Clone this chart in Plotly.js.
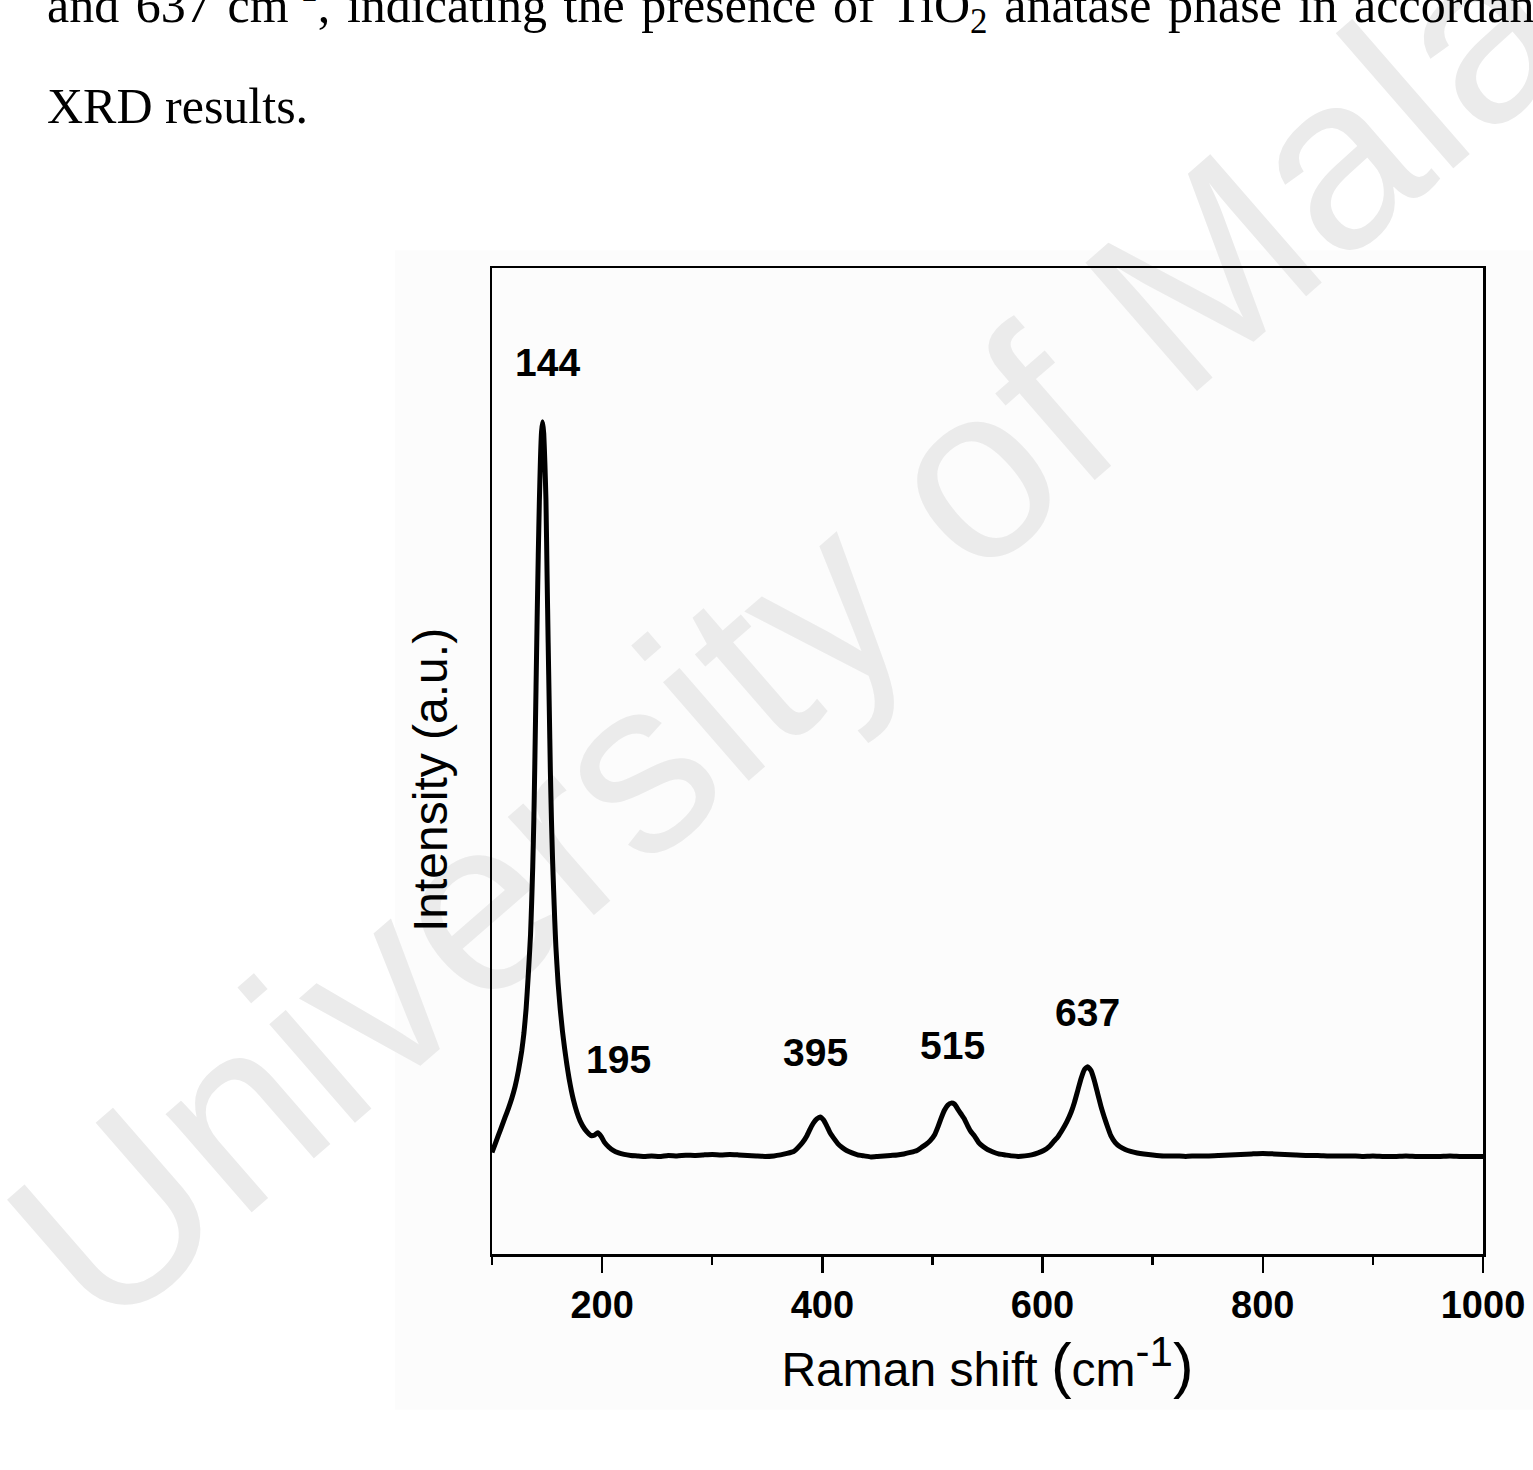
<!DOCTYPE html>
<html>
<head>
<meta charset="utf-8">
<script src="https://cdn.plot.ly/plotly-3.0.1.min.js"></script>
<style>
  html, body { margin: 0; padding: 0; background: #ffffff; }
  #chart { width: 1533px; height: 1470px; }
</style>
</head>
<body>
<div id="chart"></div>
<script>
// Raman shift (cm-1)
const ramanShift = [
  100,103,106,109,112,115,118,121,124,127,129,131,133,135,136,137,138,139,140,141,
  142,143,144,145,146,147,148,149,150,151,152,153,154,155,156,157,158,160,162,164,
  166,168,170,172,174,177,180,184,187,190,193,196,199,202,206,210,215,220,226,232,
  238,245,252,260,268,276,284,292,300,308,316,324,332,340,348,356,362,368,374,378,
  382,386,389,392,395,398,401,404,407,410,414,418,422,427,432,438,444,450,456,462,
  468,474,480,486,490,494,498,502,505,508,511,514,517,520,523,526,529,532,535,538,
  542,546,550,555,560,566,572,578,584,590,596,601,606,610,614,618,622,626,629,632,
  635,638,641,644,647,650,653,656,659,662,666,670,675,680,686,692,700,710,720,730,
  740,750,760,770,780,790,800,810,820,830,840,850,860,870,880,890,900,910,920,930,
  940,950,960,970,980,990,1000
];
// Intensity (a.u.)
const intensity = [
  10.3,11.2,12.1,13.0,13.9,14.8,15.8,17.0,18.6,20.6,22.4,24.9,28.4,32.4,35.6,39.3,44.0,50.5,57.5,64.5,
  70.8,76.3,80.6,83.4,84.4,83.2,80.3,76.5,69.0,62.0,55.5,49.0,44.0,40.0,36.8,33.8,31.2,27.5,24.8,22.6,
  20.8,19.2,17.8,16.6,15.6,14.4,13.5,12.7,12.3,12.0,12.05,12.3,11.95,11.35,10.85,10.5,10.25,10.1,10.0,9.95,
  9.9,9.95,9.88,10.0,9.95,10.02,10.0,10.05,10.1,10.05,10.1,10.05,10.0,9.95,9.9,9.95,10.05,10.2,10.4,10.8,
  11.3,12.0,12.7,13.3,13.7,13.9,13.6,13.0,12.3,11.8,11.2,10.8,10.5,10.25,10.05,9.95,9.85,9.9,9.95,10.0,
  10.05,10.15,10.3,10.5,10.8,11.1,11.5,12.1,12.9,13.8,14.6,15.1,15.3,15.2,14.7,14.2,13.7,13.0,12.4,12.0,
  11.3,10.9,10.6,10.35,10.15,10.05,9.95,9.9,9.95,10.05,10.25,10.5,10.9,11.4,11.9,12.6,13.4,14.4,15.4,16.6,
  17.8,18.7,19.0,18.6,17.6,16.3,15.0,13.9,12.9,12.0,11.3,10.9,10.6,10.4,10.25,10.15,10.05,9.95,9.95,9.9,
  9.95,9.95,10.0,10.05,10.1,10.15,10.2,10.15,10.1,10.05,10.0,10.0,9.95,9.95,9.95,9.9,9.95,9.9,9.9,9.95,
  9.9,9.9,9.9,9.95,9.9,9.9,9.9
];
// Peak labels
const peakLabels = ['144', '195', '395', '515', '637'];
const peakLabelX = [150, 214.5, 393.6, 518, 641];
const peakLabelY = [90.4, 19.7, 20.4, 21.1, 24.5];

// Axis ticks
const xTickVals = [200, 400, 600, 800, 1000];
const xTickText = ['200', '400', '600', '800', '1000'];

// Titles and page texts
const xTitle = 'Raman shift <span style="font-size:62px">(</span>cm<sup><span style="font-size:42px">-1</span></sup><span style="font-size:62px">)</span>';
const yTitle = 'Intensity (a.u.)';
const hair = '\u200A';
const pageLine1 = ['and', '637', 'cm<sup>-1</sup>,', 'indicating', 'the', 'presence', 'of', 'TiO<sub>2</sub>', 'anatase', 'phase', 'in', 'accordance', 'with'].join(' ' + hair);
const pageLine2 = 'XRD results.';
const watermark = 'University of Malaya';

const sans = 'Arial, "Liberation Sans", sans-serif';
const serif = '"Times New Roman", "Liberation Serif", serif';

const trace = {
  x: ramanShift,
  y: intensity,
  type: 'scatter',
  mode: 'lines',
  line: { color: '#000000', width: 5, shape: 'spline', smoothing: 0.4 },
  hoverinfo: 'skip',
  showlegend: false
};

const annotations = peakLabels.map((t, i) => ({
  x: peakLabelX[i], y: peakLabelY[i], xref: 'x', yref: 'y',
  text: t, showarrow: false, xanchor: 'center', yanchor: 'middle',
  font: { family: sans, size: 39, color: '#000', weight: 'bold' }
}));

annotations.push({
  x: -0.0626, y: 0.4807, xref: 'paper', yref: 'paper',
  text: yTitle, showarrow: false, textangle: -90,
  xanchor: 'center', yanchor: 'middle',
  font: { family: sans, size: 48, color: '#000' }
});
annotations.push({
  x: -0.4515, y: 1.228, xref: 'paper', yref: 'paper',
  text: pageLine1, showarrow: false, xanchor: 'left', yanchor: 'bottom',
  font: { family: serif, size: 50, color: '#000' }
});
annotations.push({
  x: -0.4515, y: 1.134, xref: 'paper', yref: 'paper',
  text: pageLine2, showarrow: false, xanchor: 'left', yanchor: 'bottom',
  font: { family: serif, size: 50, color: '#000' }
});

const shapes = [
  {
    type: 'rect', xref: 'paper', yref: 'paper', layer: 'below',
    x0: -0.098, x1: 1.06, y0: -0.158, y1: 1.018,
    fillcolor: '#fcfcfc', line: { width: 0 }
  },
  {
    type: 'line', xref: 'paper', yref: 'paper', layer: 'below',
    x0: 0.0025, y0: 0.4026, x1: 0.7644, y1: 1.068,
    line: { width: 0, color: 'rgba(0,0,0,0)' },
    label: {
      text: watermark, textposition: 'middle', textangle: 'auto',
      yanchor: 'middle', xanchor: 'center',
      font: { family: sans, size: 247, color: '#ebebeb' }
    }
  }
];

const layout = {
  width: 1533,
  height: 1470,
  margin: { l: 492, r: 50, t: 268, b: 216, pad: 0 },
  paper_bgcolor: '#ffffff',
  plot_bgcolor: 'rgba(0,0,0,0)',
  showlegend: false,
  xaxis: {
    range: [100, 1000],
    tickmode: 'array',
    tickvals: xTickVals,
    ticktext: xTickText,
    ticks: 'outside',
    ticklen: 16,
    tickwidth: 2.5,
    tickcolor: '#000',
    showline: true,
    linewidth: 2.5,
    linecolor: '#000',
    mirror: true,
    showgrid: false,
    zeroline: false,
    tickfont: { family: sans, size: 38, color: '#000', weight: 'bold' },
    minor: { tickmode: 'linear', tick0: 100, dtick: 100, ticks: 'outside', ticklen: 8, tickwidth: 2.5, tickcolor: '#000', showgrid: false },
    title: {
      text: xTitle,
      font: { family: sans, size: 48, color: '#000' },
      standoff: 28
    }
  },
  yaxis: {
    range: [0, 100],
    showticklabels: false,
    ticks: '',
    showline: true,
    linewidth: 2.5,
    linecolor: '#000',
    mirror: true,
    showgrid: false,
    zeroline: false
  },
  annotations: annotations,
  shapes: shapes
};

Plotly.newPlot('chart', [trace], layout, { staticPlot: true, displayModeBar: false });
</script>
</body>
</html>
